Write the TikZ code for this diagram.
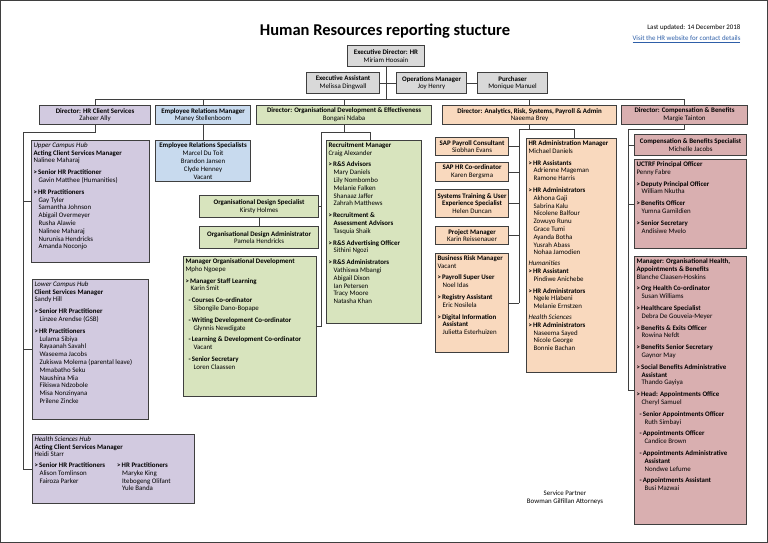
\documentclass[tikz,border=0pt]{standalone}
\usepackage{fontspec}
\setmainfont{Carlito}
\definecolor{frame}{HTML}{3F3F3F}
\definecolor{cpur}{HTML}{D2CAE0}
\definecolor{cblu}{HTML}{C8DAEE}
\definecolor{cgrn}{HTML}{D8E4BE}
\definecolor{cpch}{HTML}{F9D9BE}
\definecolor{crose}{HTML}{D9AFB0}
\definecolor{cgry}{HTML}{D9D9D9}
\definecolor{clink}{HTML}{2E5FA8}
\newcommand\bx[3]{\parbox[t][#2pt][t]{#1pt}{\raggedright #3}}
\newcommand\hh[1]{\textbf{>\,#1}}
\newcommand\ii{\hspace*{5pt}}
\newcommand\jj{\hspace*{8pt}}
\newcommand\sbi[1]{\hspace*{3pt}\textbf{-\,#1}}
\begin{document}
\begin{tikzpicture}[x=1pt,y=-1pt,
  ob/.style={draw=frame,line width=1.1pt,anchor=north west,inner sep=2pt,font=\fontsize{6.9}{7.8}\selectfont},
  cb/.style={draw=frame,line width=1.1pt,anchor=north west,inner sep=1pt,align=center,font=\fontsize{6.9}{7.8}\selectfont},
  ln/.style={draw=frame,line width=0.7pt}]
\useasboundingbox (0,0) rectangle (768,543);
\draw[line width=1pt,draw=frame] (0.5,0.5) rectangle (767.5,542.5);

\node[font=\fontsize{16.5}{19}\selectfont\bfseries] (title) at (385,31) {Human Resources reporting stucture};
\node[anchor=east,font=\fontsize{6.9}{7.5}\selectfont] (upd) at (744,28) {Last updated: 14 December 2018};
\node[anchor=east,font=\fontsize{6.9}{7.5}\selectfont,text=clink] (lnk) at (744,39) {\underline{Visit the HR website for contact details}};

% top
\node[cb,fill=cgry,minimum width=77pt,minimum height=21pt] (ed) at (347,45) {\textbf{Executive Director: HR}\\Miriam Hoosain};
\node[cb,fill=cgry,minimum width=73pt,minimum height=21pt] (ea) at (306,72) {\textbf{Executive Assistant}\\Melissa Dingwall};
\node[cb,fill=cgry,minimum width=70pt,minimum height=21pt] (ops) at (396,72) {\textbf{Operations Manager}\\Joy Henry};
\node[cb,fill=cgry,minimum width=70pt,minimum height=21pt] (pur) at (477,72) {\textbf{Purchaser}\\Monique Manuel};

% directors
\node[cb,fill=cpur,minimum width=111pt,minimum height=19pt] (d1) at (39,105) {\textbf{Director: HR Client Services}\\Zaheer Ally};
\node[cb,fill=cblu,minimum width=95pt,minimum height=19pt] (d2) at (155,105) {\textbf{Employee Relations Manager}\\Maney Stellenboom};
\node[cb,fill=cgrn,minimum width=175pt,minimum height=19pt] (d3) at (256,105) {\textbf{Director: Organisational Development \& Effectiveness}\\Bongani Ndaba};
\node[cb,fill=cpch,minimum width=174pt,minimum height=19pt] (d4) at (442,105) {\textbf{Director: Analytics, Risk, Systems, Payroll \& Admin}\\Naeema Brey};
\node[cb,fill=crose,minimum width=126pt,minimum height=19pt] (d5) at (621,105) {\textbf{Director: Compensation \& Benefits}\\Margie Tainton};

% column 1
\node[ob,fill=cpur] (uch) at (31,140) {\bx{114}{118}{\textit{Upper Campus Hub}\\
\textbf{Acting Client Services Manager}\\Nalinee Maharaj\\[4pt]
\hh{Senior HR Practitioner}\\\ii Gavin Matthee (Humanities)\\[4pt]
\hh{HR Practitioners}\\\ii Gay Tyler\\\ii Samantha Johnson\\\ii Abigail Overmeyer\\\ii Rusha Alawie\\\ii Nalinee Maharaj\\\ii Nurunisa Hendricks\\\ii Amanda Noconjo}};
\node[ob,fill=cpur] (lch) at (32,279) {\bx{112}{136}{\textit{Lower Campus Hub}\\
\textbf{Client Services Manager}\\Sandy Hill\\[4pt]
\hh{Senior HR Practitioner}\\\ii Linzee Arendse (GSB)\\[4pt]
\hh{HR Practitioners}\\\ii Lulama Sibiya\\\ii Rayaanah Savahl\\\ii Waseema Jacobs\\\ii Zukiswa Molema (parental leave)\\\ii Mmabatho Seku\\\ii Naushina Mia\\\ii Fikiswa Ndzobole\\\ii Misa Nonzinyana\\\ii Prilene Zincke}};
\node[ob,fill=cpur] (hsh) at (32,434) {\bx{158}{65}{\textit{Health Sciences Hub}\\
\textbf{Acting Client Services Manager}\\Heidi Starr\\[4pt]
\begin{tabular}{@{}l@{\hspace{12pt}}l@{}}
\hh{Senior HR Practitioners} & \hh{HR Practitioners}\\
\ii Alison Tomlinson & \ii Maryke King\\
\ii Fairoza Parker & \ii Itebogeng Olifant\\
 & \ii Yule Banda
\end{tabular}}};

% column 2
\node[cb,fill=cblu,minimum width=95pt,minimum height=41pt] (ers) at (155,140) {\textbf{Employee Relations Specialists}\\Marcel Du Toit\\Brandon Jansen\\Clyde Henney\\Vacant};

% org dev
\node[cb,fill=cgrn,minimum width=119pt,minimum height=22pt] (ods) at (199,195) {\textbf{Organisational Design Specialist}\\Kirsty Holmes};
\node[cb,fill=cgrn,minimum width=119pt,minimum height=22pt] (oda) at (199,226) {\textbf{Organisational Design Administrator}\\Pamela Hendricks};
\node[ob,fill=cgrn] (mod) at (183,256) {\bx{129}{136}{\textbf{Manager Organisational Development}\\Mpho Ngoepe\\[4pt]
\hh{Manager Staff Learning}\\\ii Karin Smit\\[4pt]
\sbi{Courses Co-ordinator}\\\jj Sibongile Dano-Bopape\\[4pt]
\sbi{Writing Development Co-ordinator}\\\jj Glynnis Newdigate\\[4pt]
\sbi{Learning \& Development Co-ordinator}\\\jj Vacant\\[4pt]
\sbi{Senior Secretary}\\\jj Loren Claassen}};
\node[ob,fill=cgrn] (rec) at (326,140) {\bx{91}{179}{\textbf{Recruitment Manager}\\Craig Alexander\\[4pt]
\hh{R\&S Advisors}\\\ii Mary Daniels\\\ii Lily Nombombo\\\ii Melanie Falken\\\ii Shanaaz Jaffer\\\ii Zahrah Matthews\\[4pt]
\hh{Recruitment \&}\\\ii\textbf{Assessment Advisors}\\\ii Tasquia Shaik\\[4pt]
\hh{R\&S Advertising Officer}\\\ii Sithini Ngozi\\[4pt]
\hh{R\&S Administrators}\\\ii Vathiswa Mbangi\\\ii Abigail Dixon\\\ii Ian Petersen\\\ii Tracy Moore\\\ii Natasha Khan}};

% analytics
\node[cb,fill=cpch,minimum width=73pt,minimum height=18pt] (sap) at (435,137) {\textbf{SAP Payroll Consultant}\\Siobhan Evans};
\node[cb,fill=cpch,minimum width=73pt,minimum height=19pt] (saph) at (435,162) {\textbf{SAP HR Co-ordinator}\\Karen Bergsma};
\node[cb,fill=cpch,minimum width=73pt,minimum height=28pt] (sys) at (435,189) {\textbf{Systems Training \& User}\\\textbf{Experience Specialist}\\Helen Duncan};
\node[cb,fill=cpch,minimum width=73pt,minimum height=18pt] (pm) at (435,226) {\textbf{Project Manager}\\Karin Reissenauer};
\node[ob,fill=cpch] (brm) at (435,253) {\bx{69}{95}{\textbf{Business Risk Manager}\\Vacant\\[4pt]
\hh{Payroll Super User}\\\ii Noel Idas\\[4pt]
\hh{Registry Assistant}\\\ii Eric Nosilela\\[4pt]
\hh{Digital Information}\\\ii\textbf{Assistant}\\\ii Julietta Esterhuizen}};
\node[ob,fill=cpch] (hra) at (526,138) {\bx{86}{230}{\textbf{HR Administration Manager}\\Michael Daniels\\[4pt]
\hh{HR Assistants}\\\ii Adrienne Mageman\\\ii Ramone Harris\\[4pt]
\hh{HR Administrators}\\\ii Akhona Gaji\\\ii Sabrina Kalu\\\ii Nicolene Balfour\\\ii Zowuyo Runu\\\ii Grace Tumi\\\ii Ayanda Botha\\\ii Yusrah Abass\\\ii Nohaa Jamodien\\[3pt]
\textit{Humanities}\\\hh{HR Assistant}\\\ii Pindiwe Anichebe\\[4pt]
\hh{HR Administrators}\\\ii Ngele Hlabeni\\\ii Melanie Ernstzen\\[3pt]
\textit{Health Sciences}\\\hh{HR Administrators}\\\ii Naseema Sayed\\\ii Nicole George\\\ii Bonnie Bachan}};

% comp & benefits
\node[cb,fill=crose,minimum width=112pt,minimum height=21pt] (cbs) at (634,134) {\textbf{Compensation \& Benefits Specialist}\\Michelle Jacobs};
\node[ob,fill=crose] (uct) at (634,159) {\bx{108}{85}{\textbf{UCTRF Principal Officer}\\Penny Fabre\\[4pt]
\hh{Deputy Principal Officer}\\\ii William Nkutha\\[4pt]
\hh{Benefits Officer}\\\ii Yumna Gamildien\\[4pt]
\hh{Senior Secretary}\\\ii Andisiwe Mvelo}};
\node[ob,fill=crose] (moh) at (634,256) {\bx{108}{264}{\textbf{Manager: Organisational Health,}\\\textbf{Appointments \& Benefits}\\Blanche Claasen-Hoskins\\[4pt]
\hh{Org Health Co-ordinator}\\\ii Susan Williams\\[4pt]
\hh{Healthcare Specialist}\\\ii Debra De Gouveia-Meyer\\[4pt]
\hh{Benefits \& Exits Officer}\\\ii Rowina Nefdt\\[4pt]
\hh{Benefits Senior Secretary}\\\ii Gaynor May\\[4pt]
\hh{Social Benefits Administrative}\\\ii\textbf{Assistant}\\\ii Thando Gayiya\\[4pt]
\hh{Head: Appointments Office}\\\ii Cheryl Samuel\\[4pt]
\sbi{Senior Appointments Officer}\\\jj Ruth Simbayi\\[4pt]
\sbi{Appointments Officer}\\\jj Candice Brown\\[4pt]
\sbi{Appointments Administrative}\\\jj\textbf{Assistant}\\\jj Nondwe Lefume\\[4pt]
\sbi{Appointments Assistant}\\\jj Busi Mazwai}};

\node[align=center,font=\fontsize{6.9}{7.8}\selectfont] (sp) at (565,498) {Service Partner\\Bowman Gilfillan Attorneys};

% connectors
\coordinate (bus) at (0,99);
\draw[ln] (ed.south) -- (ed.south |- bus);
\draw[ln] (d1.north |- bus) -- (d5.north |- bus);
\foreach \d in {d1,d2,d3,d4,d5} \draw[ln] (\d.north) -- (\d.north |- bus);
\draw[ln] (ea.east) -- (ops.west);
\draw[ln] (ops.east) -- (pur.west);

\coordinate (L1) at (23,132);
\draw[ln] (d1.south) -- (d1.south |- L1) -- (L1) -- (L1 |- hsh.west);
\foreach \b in {uch,lch,hsh} \draw[ln] (\b.west) -- (\b.west -| L1);

\draw[ln] (d2.south) -- (d2.south |- ers.north);

\coordinate (O1) at (321,132);
\coordinate (O2) at (370,132);
\draw[ln] (d3.south) -- (d3.south |- O1);
\draw[ln] (O1) -- (O2) -- (O2 |- rec.north);
\draw[ln] (O1) -- (O1 |- mod.east);
\draw[ln] (ods.east) -- (ods.east -| O1);
\draw[ln] (mod.east) -- (mod.east -| O1);
\draw[ln] (ods.south) -- (ods.south |- oda.north);

\coordinate (A1) at (519,129);
\coordinate (A2) at (574,129);
\draw[ln] (d4.south) -- (d4.south |- A1);
\draw[ln] (A1) -- (A2) -- (A2 |- hra.north);
\draw[ln] (A1) -- (A1 |- brm.east);
\foreach \b in {sap,saph,sys,pm,brm} \draw[ln] (\b.east) -- (\b.east -| A1);

\coordinate (C1) at (628,129);
\draw[ln] (d5.south) -- (d5.south |- C1) -- (C1) -- (C1 |- moh.west);
\foreach \b in {cbs,uct,moh} \draw[ln] (\b.west) -- (\b.west -| C1);
\end{tikzpicture}
\end{document}
